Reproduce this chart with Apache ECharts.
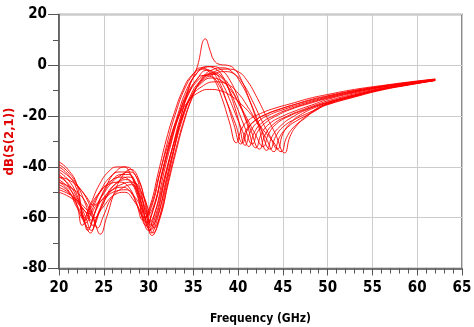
<!DOCTYPE html>
<html><head><meta charset="utf-8">
<script src="https://cdn.jsdelivr.net/npm/echarts@6/dist/echarts.min.js"></script>
<style>html,body{margin:0;padding:0;background:#fff}#c{width:474px;height:327px}</style>
</head><body><div id="c"></div>
<script>
const xTicks = [20,25,30,35,40,45,50,55,60,65];
const yTicks = [-80,-60,-40,-20,0,20];
const xName = 'Frequency (GHz)';
const yName = 'dB(S(2,1))';

const c0 = [[20,-38],[21,-41],[22,-47],[22.8,-60],[23.6,-54],[24.5,-47],[25.5,-42],[26.5,-40],[27.2,-40],[28,-43],[28.8,-51],[29.6,-60],[30.4,-55],[31.3,-42],[32.2,-29],[33.1,-18],[34,-9.5],[35,-3.5],[35.8,-1],[36.6,-2],[37.4,-6],[38.2,-13],[39,-22],[39.8,-30.5],[40.4,-25],[41.2,-21.5],[42.5,-19],[44,-17],[46,-15],[48,-13],[50,-11.5],[53,-9.5],[56,-8],[59,-6.6],[62,-5.4]];
const c1 = [[20,-40],[21,-43],[22,-49],[23,-62],[23.8,-56],[24.7,-49],[25.7,-44],[26.7,-42],[27.5,-42],[28.3,-45],[29,-52],[29.8,-62],[30.6,-56],[31.5,-43],[32.4,-30],[33.3,-19],[34.2,-10],[35.2,-4],[36.2,-1.5],[37,-2.5],[37.8,-6],[38.6,-13],[39.5,-23],[40.3,-31],[40.9,-25.5],[41.8,-22],[43,-19.5],[44.5,-17.5],[46,-15.8],[48,-13.6],[50,-12],[53,-9.9],[56,-8.2],[59,-6.8],[62,-5.5]];
const c2 = [[20,-42],[21,-45],[22,-51],[23.3,-64],[24.1,-57],[25,-50],[26,-45],[27,-43],[27.8,-43],[28.6,-47],[29.3,-55],[30,-64],[30.8,-57],[31.6,-44],[32.5,-31],[33.4,-19.5],[34.3,-10.5],[35.3,-3.5],[36.5,-0.5],[37.5,-1.5],[38.3,-4.5],[39.1,-11],[40,-21],[40.8,-31.5],[41.4,-26],[42.3,-22],[43.5,-19.5],[45,-17.5],[47,-15.3],[50,-12.5],[53,-10.2],[56,-8.4],[59,-6.9],[62,-5.6]];
const c3 = [[20,-44],[21,-46.5],[22,-52],[23,-60],[23.6,-65],[24.4,-58],[25.3,-51],[26.4,-46.5],[27.6,-45],[28.6,-49],[29.4,-57],[30.2,-65],[31,-58],[31.8,-45],[32.7,-32],[33.6,-20],[34.5,-11],[35.5,-5],[36.5,-2],[37.4,-3],[38.2,-7],[39,-13],[39.8,-20],[40.5,-26],[41.2,-32],[41.8,-26.5],[42.7,-22.5],[44,-19.8],[45.5,-17.5],[47.5,-15.2],[50,-12.8],[53,-10.4],[56,-8.5],[59,-7],[62,-5.6]];
const c4 = [[20,-46],[21,-47.5],[22,-50],[23,-54],[24,-62],[24.6,-66.5],[25.3,-60],[26.2,-50],[27.2,-43],[28,-41],[28.8,-44],[29.6,-54],[30.3,-66],[31.1,-59],[31.9,-46],[32.8,-33],[33.7,-21],[34.6,-12.5],[35.7,-6.5],[37,-3.5],[38,-4.5],[38.9,-9],[39.8,-16],[40.7,-24],[41.6,-31],[42.2,-26],[43.1,-22.5],[44.5,-19.5],[46,-17.2],[48,-15],[50,-13],[53,-10.6],[56,-8.6],[59,-7.1],[62,-5.7]];
const c5 = [[20,-43],[21,-47],[22,-55],[22.6,-63],[23.3,-57],[24.3,-51],[25.5,-47],[26.8,-46],[27.8,-48],[28.6,-54],[29.4,-61],[30.2,-55],[31.1,-42],[32,-29],[32.9,-18.5],[33.8,-10],[34.8,-4],[36,-1.2],[37.2,-0.5],[38.2,-2],[39.1,-6],[40,-13],[40.9,-22],[42,-32.5],[42.6,-27],[43.5,-23],[45,-20],[46.5,-17.8],[48.5,-15.3],[50,-13.4],[53,-10.8],[56,-8.7],[59,-7.1],[62,-5.7]];
const c6 = [[20,-45],[21,-48],[22,-53],[22.7,-59],[23.2,-65],[24,-58],[25,-52],[26,-49],[27,-48],[28,-50],[29,-57],[29.7,-63],[30.5,-57],[31.5,-43],[32.5,-30],[33.5,-19],[34.5,-11],[35.5,-6],[36.5,-3.5],[37.3,-3],[38.2,-4.5],[39.2,-9],[40.2,-16],[41.3,-24.5],[42.4,-33],[43,-27.5],[44,-23],[45.5,-20],[47,-17.8],[49,-15.2],[50,-14],[53,-11.2],[56,-9],[59,-7.3],[62,-5.8]];
const c7 = [[20,-47],[21,-49.5],[22,-55],[22.9,-62],[23.5,-66],[24.2,-60],[25.1,-55],[26.2,-51],[27.3,-50],[28.3,-53],[29.2,-59],[30,-65],[30.8,-59],[31.8,-45],[32.8,-31],[33.8,-20],[34.8,-12],[35.9,-7],[37,-5],[38,-5.8],[39,-9],[40,-14.5],[41,-21],[41.9,-27],[42.8,-32],[43.4,-27],[44.3,-23],[45.7,-20],[47.5,-17.5],[50,-14.5],[53,-11.6],[56,-9.2],[59,-7.4],[62,-5.8]];
const c8 = [[20,-48],[21,-50],[22,-53.5],[23,-58],[23.8,-63],[24.6,-57],[25.6,-50],[26.7,-45.5],[27.8,-44],[28.8,-48],[29.6,-57],[30.4,-67],[31.2,-60],[32,-47],[32.8,-34],[33.6,-21],[34.5,-9],[35.4,-1],[36.35,10.4],[36.9,5.5],[37.3,2],[38,0.3],[38.8,0],[39.6,-1.5],[40.4,-6],[41.2,-13],[42.2,-23],[43.2,-33.5],[43.8,-28],[44.7,-24],[46,-20.5],[48,-17],[50,-14.6],[53,-11.7],[56,-9.3],[59,-7.5],[62,-5.9]];
const c9 = [[20,-49],[21,-50.5],[22,-53],[23,-56.5],[24,-60],[24.7,-56],[25.7,-50],[26.9,-47],[28.2,-46],[29.2,-50],[30,-57],[30.6,-64],[31.4,-58],[32.3,-44],[33.2,-31],[34.1,-20],[35,-11.5],[36,-5],[37.1,-1.8],[38.3,-1],[39.3,-2.5],[40.3,-7],[41.3,-14],[42.4,-23.5],[43.6,-33],[44.2,-28],[45.1,-24],[46.5,-21],[48.3,-18],[50,-15],[53,-12],[56,-9.4],[59,-7.5],[62,-5.9]];
const c10 = [[20,-50],[21,-51.5],[22,-54],[22.8,-57],[23.4,-58.5],[24.2,-55],[25.2,-52],[26.4,-49.5],[27.5,-49],[28.5,-52],[29.3,-57],[30,-62],[30.8,-57],[31.7,-45],[32.7,-32],[33.7,-21],[34.7,-13],[35.9,-8.5],[37.5,-6.5],[38.8,-7.5],[40,-11],[41.1,-16.5],[42.1,-22.5],[43.1,-28.5],[44,-34],[44.6,-28.5],[45.5,-24.5],[46.8,-21.3],[48.5,-18.2],[50,-15.2],[53,-12.1],[56,-9.5],[59,-7.6],[62,-5.9]];
const c11 = [[20,-41],[21,-43.5],[22,-47],[23,-51.5],[23.9,-55],[24.7,-52],[25.7,-47],[26.8,-43.5],[27.9,-42],[28.8,-45],[29.6,-53],[30.4,-63],[31.2,-57],[32.1,-44],[33,-31],[33.9,-20],[34.8,-12],[35.9,-6.5],[37.2,-3.5],[38.5,-2.5],[39.6,-3.5],[40.6,-7.5],[41.6,-14],[42.6,-21.5],[43.5,-27.5],[44.4,-33],[45,-27],[45.9,-22.5],[47.2,-19],[49,-16],[50,-14.8],[53,-12],[56,-9.5],[59,-7.6],[62,-5.9]];
const c12 = [[20,-46],[21,-49],[22,-56],[22.9,-61],[23.6,-56],[24.6,-50],[25.8,-45.5],[27,-44],[28,-46],[28.8,-52],[29.5,-60],[30.3,-55],[31.2,-43],[32.2,-31],[33.3,-20.5],[34.5,-14],[35.7,-10.5],[36.8,-9.5],[38,-10],[39.2,-12],[40.4,-15.5],[41.6,-20],[42.7,-25],[43.8,-29.5],[44.8,-34],[45.4,-28.5],[46.3,-24],[47.6,-20.5],[49,-16.5],[50,-15.3],[53,-12.3],[56,-9.6],[59,-7.7],[62,-6]];
const c13 = [[20,-44],[21,-45],[22,-47.5],[23,-52],[23.8,-59],[24.3,-64],[25,-59],[25.9,-52],[27,-48.5],[28.1,-47],[29,-51],[29.8,-58],[30.5,-66],[31.3,-60],[32.1,-48],[33,-35],[33.9,-23],[34.8,-13.5],[35.8,-6.5],[37.2,-2.8],[38.8,-1.5],[40,-2.5],[41,-6],[42,-12],[43,-19],[44.1,-26.5],[45.2,-34.5],[45.8,-28],[46.6,-23.5],[47.8,-19.5],[49,-17],[50,-15.5],[53,-12.5],[56,-9.8],[59,-7.8],[62,-6]];
const c14 = [[20,-39],[21,-42],[22,-47],[23,-55],[23.6,-61],[24.3,-55],[25.2,-48],[26.3,-42],[27.4,-40],[28.3,-42],[29.1,-49],[29.9,-59],[30.7,-54],[31.5,-42],[32.4,-30],[33.3,-20],[34.3,-11.5],[35.2,-6.5],[36.1,-4],[37,-4.5],[37.9,-8],[38.8,-15],[39.7,-23],[40.5,-30.5],[41.1,-25],[42,-21.5],[43.3,-19],[45,-16.8],[47,-14.8],[50,-12.2],[53,-10],[56,-8.3],[59,-6.8],[62,-5.5]];

const curves = [c0,c1,c2,c3,c4,c5,c6,c7,c8,c9,c10,c11,c12,c13,c14];

const FONT = '"DejaVu Sans Condensed", "Liberation Sans", "DejaVu Sans", sans-serif';
const chart = echarts.init(document.getElementById('c'), null, {renderer:'canvas'});
chart.setOption({
  animation:false,
  backgroundColor:'#fff',
  grid:{left:59,right:12,top:14.5,bottom:58.5,containLabel:false,outerBoundsMode:'none',
    show:true,borderColor:'#666',borderWidth:1.5,backgroundColor:'transparent'},
  xAxis:{type:'value',min:xTicks[0],max:xTicks[xTicks.length-1],interval:5,
    name:xName,nameLocation:'middle',nameGap:44,
    nameTextStyle:{fontFamily:FONT,fontWeight:'bold',fontSize:12,color:'#000'},
    axisLine:{onZero:false,lineStyle:{color:'#555',width:1.5}},
    axisTick:{show:true,length:7,lineStyle:{color:'#555',width:1}},
    minorTick:{show:true,splitNumber:5,length:5,lineStyle:{color:'#555',width:1}},
    splitLine:{show:true,lineStyle:{color:'#ccc',width:1}},
    axisLabel:{fontFamily:FONT,fontWeight:'bold',fontSize:15,color:'#000',margin:12}
  },
  yAxis:{type:'value',min:yTicks[0],max:yTicks[yTicks.length-1],interval:20,
    name:yName,nameLocation:'middle',nameGap:43,nameMoveOverlap:false,
    nameTextStyle:{fontFamily:FONT,fontWeight:'bold',fontSize:13,color:'#e00000'},
    axisLine:{show:true,onZero:false,lineStyle:{color:'#555',width:1.5}},
    axisTick:{show:true,length:11,lineStyle:{color:'#555',width:1}},
    minorTick:{show:true,splitNumber:2,length:6,lineStyle:{color:'#555',width:1}},
    splitLine:{show:true,lineStyle:{color:'#ccc',width:1}},
    axisLabel:{fontFamily:FONT,fontWeight:'bold',fontSize:15,color:'#000',margin:12}
  },
  series: curves.map((d,i)=>({type:'line',data:d,smooth:0.5,showSymbol:false,
    lineStyle:{color:'rgba(255,0,0,0.9)',width:1},z:2}))
});
</script></body></html>
